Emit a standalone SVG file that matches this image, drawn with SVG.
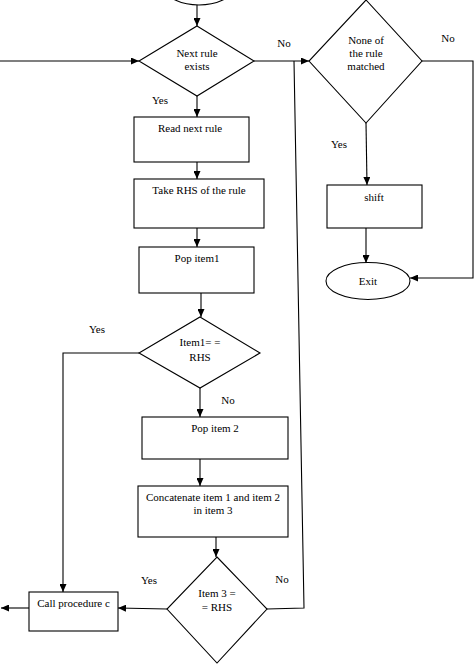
<svg xmlns="http://www.w3.org/2000/svg" width="474" height="664" viewBox="0 0 474 664">
<style>
.s{fill:#fff;stroke:#000;stroke-width:1.1}
.c{fill:none;stroke:#000;stroke-width:1.1}
text{font-family:"Liberation Serif","Times New Roman",serif;font-size:11px;fill:#000;text-anchor:middle}
</style>
<defs>
<marker id="a" markerUnits="userSpaceOnUse" markerWidth="8" markerHeight="7" refX="8" refY="3.5" orient="auto">
<path d="M0,0 L8,3.5 L0,7 z" fill="#000"/>
</marker>
</defs>
<rect width="474" height="664" fill="#fff"/>
<g id="connectors">
<path class="c" d="M197,5 L197,26" marker-end="url(#a)"/>
<path class="c" d="M0,61 L139,61" marker-end="url(#a)"/>
<path class="c" d="M254,61 L309,61" marker-end="url(#a)"/>
<path class="c" d="M422,61 L473,61 L473,278 L410,278" marker-end="url(#a)"/>
<path class="c" d="M366,123 L367,185" marker-end="url(#a)"/>
<path class="c" d="M366,228 L366,263" marker-end="url(#a)"/>
<path class="c" d="M197,96 L197,117" marker-end="url(#a)"/>
<path class="c" d="M197,162 L197,179" marker-end="url(#a)"/>
<path class="c" d="M197,228 L197,247" marker-end="url(#a)"/>
<path class="c" d="M201,293 L201,317" marker-end="url(#a)"/>
<path class="c" d="M139,353 L63,353 L63,592" marker-end="url(#a)"/>
<path class="c" d="M200,388 L200,417" marker-end="url(#a)"/>
<path class="c" d="M200,459 L200,486" marker-end="url(#a)"/>
<path class="c" d="M216,537 L216,557" marker-end="url(#a)"/>
<path class="c" d="M167,609 L118,608" marker-end="url(#a)"/>
<path class="c" d="M29,608 L1,608" marker-end="url(#a)"/>
<path class="c" d="M267,609 L304,608 L294,61"/>
</g>
<g id="start"><ellipse class="s" cx="199" cy="-10" rx="32" ry="15"/></g>
<g id="next-rule">
<polygon class="s" points="197,26 254,61 197,96 139,61"/>
<text x="197" y="57">Next rule</text>
<text x="197" y="70">exists</text>
</g>
<g id="none-matched">
<polygon class="s" points="366,0 422,61 366,123 309,61"/>
<text x="366" y="44">None of</text>
<text x="366" y="57">the rule</text>
<text x="366" y="70">matched</text>
</g>
<g id="shift">
<rect class="s" x="327" y="185" width="95" height="43"/>
<text x="374" y="201">shift</text>
</g>
<g id="exit">
<ellipse class="s" cx="368" cy="281" rx="42" ry="18.5"/>
<text x="368" y="285">Exit</text>
</g>
<g id="read-next">
<rect class="s" x="134" y="117" width="115" height="45"/>
<text x="190" y="132">Read next rule</text>
</g>
<g id="take-rhs">
<rect class="s" x="134" y="179" width="130" height="49"/>
<text x="199" y="194">Take RHS of the rule</text>
</g>
<g id="pop1">
<rect class="s" x="139" y="247" width="115" height="46"/>
<text x="197" y="262">Pop item1</text>
</g>
<g id="item1-rhs">
<polygon class="s" points="200,317 260,353 200,388 139,353"/>
<text x="200" y="346">Item1= =</text>
<text x="200" y="361">RHS</text>
</g>
<g id="pop2">
<rect class="s" x="142" y="417" width="146" height="42"/>
<text x="215" y="432">Pop item 2</text>
</g>
<g id="concat">
<rect class="s" x="138" y="486" width="150" height="51"/>
<text x="213" y="501">Concatenate item 1 and item 2</text>
<text x="213" y="514">in item 3</text>
</g>
<g id="item3-rhs">
<polygon class="s" points="217,557 267,609 217,663 167,609"/>
<text x="217" y="597">Item 3 =</text>
<text x="217" y="611">= RHS</text>
</g>
<g id="call-proc">
<rect class="s" x="29" y="592" width="89" height="39"/>
<text x="73.5" y="607">Call procedure c</text>
</g>
<g id="labels">
<text x="284" y="47">No</text>
<text x="448" y="42">No</text>
<text x="160" y="104">Yes</text>
<text x="339" y="148">Yes</text>
<text x="97" y="333">Yes</text>
<text x="228" y="404">No</text>
<text x="149" y="584">Yes</text>
<text x="282" y="583">No</text>
</g>
</svg>
